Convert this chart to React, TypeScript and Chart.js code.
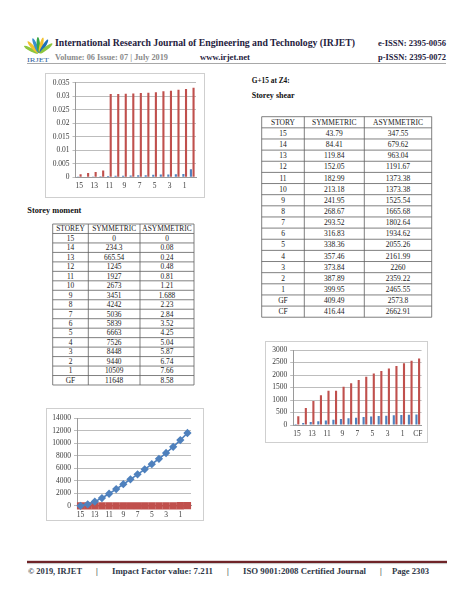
import { useEffect, useRef } from 'react';
import { Chart, registerables } from 'chart.js';

Chart.register(...registerables);

// storey drift (first chart, no table on the page)
const driftStoreys = ['15', '14', '13', '12', '11', '10', '9', '8', '7', '6', '5', '4', '3', '2', '1', 'GF'];
const driftSymmetric = [0.0001, 0.0002, 0.0003, 0.0004, 0.0005, 0.0006, 0.0006, 0.0007, 0.0008, 0.0008, 0.0009, 0.001, 0.001, 0.0011, 0.0012, 0.003];
const driftAsymmetric = [0.0011, 0.0016, 0.002, 0.0025, 0.0308, 0.0308, 0.0309, 0.031, 0.0312, 0.0313, 0.0315, 0.0318, 0.032, 0.0324, 0.0327, 0.0331];
const driftMax = 0.035;
const driftStep = 0.005;

// storey moment
const momentStoreys = ['15', '14', '13', '12', '11', '10', '9', '8', '7', '6', '5', '4', '3', '2', '1', 'GF'];
const momentSymmetric = [0, 234.3, 665.54, 1245, 1927, 2673, 3451, 4242, 5036, 5839, 6663, 7526, 8448, 9440, 10509, 11648];
const momentAsymmetric = [0, 0.08, 0.24, 0.48, 0.81, 1.21, 1.688, 2.23, 2.84, 3.52, 4.25, 5.04, 5.87, 6.74, 7.66, 8.58];
const momentHeader = ['STOREY', 'SYMMETRIC', 'ASYMMETRIC'];
const momentMax = 14000;
const momentStep = 2000;

// storey shear
const shearStoreys = ['15', '14', '13', '12', '11', '10', '9', '8', '7', '6', '5', '4', '3', '2', '1', 'GF', 'CF'];
const shearSymmetric = [43.79, 84.41, 119.84, 152.05, 182.99, 213.18, 241.95, 268.67, 293.52, 316.83, 338.36, 357.46, 373.84, 387.89, 399.95, 409.49, 416.44];
const shearAsymmetric = [347.55, 679.62, 963.04, 1191.67, 1373.38, 1373.38, 1525.54, 1665.68, 1802.64, 1934.62, 2055.26, 2161.99, 2260, 2359.22, 2465.55, 2573.8, 2662.91];
const shearHeader = ['STORY', 'SYMMETRIC', 'ASYMMETRIC'];
const shearMax = 3000;
const shearStep = 500;

const BLUE = '#4f81bd';
const RED = '#c0504d';
const GRID = '#bdbdbd';
const AXIS = '#9a9a9a';
const TICK = '#3a3a3a';
const FONT = "'Liberation Serif', 'Times New Roman', serif";

function everyOther(labels: string[]) {
  return (_v: any, i: number) => (i % 2 === 0 ? labels[i] : '');
}

function makeScales(labels: string[], yMax: number, yStep: number, yFormat: (v: any) => string, yWidth: number, xHeight: number) {
  return {
    x: {
      offset: true,
      grid: { display: false, drawTicks: false },
      border: { color: AXIS },
      ticks: {
        autoSkip: false,
        maxRotation: 0,
        padding: 4.5,
        color: TICK,
        font: { family: FONT, size: 7.5 },
        callback: everyOther(labels),
      },
      afterFit: (s: any) => { s.height = xHeight; },
    },
    y: {
      min: 0,
      max: yMax,
      grid: { color: GRID, tickLength: 3 },
      border: { color: AXIS },
      ticks: {
        stepSize: yStep,
        padding: 3,
        color: TICK,
        font: { family: FONT, size: 7.5 },
        callback: yFormat,
      },
      afterFit: (s: any) => { s.width = yWidth; },
    },
  };
}

const baseOptions = {
  animation: false,
  responsive: true,
  maintainAspectRatio: false,
  plugins: { legend: { display: false }, tooltip: { enabled: false } },
};

function buildDrift(): any {
  return {
    type: 'bar',
    data: {
      labels: driftStoreys,
      datasets: [
        { label: 'SYMMETRIC', data: driftSymmetric, backgroundColor: BLUE, categoryPercentage: 0.7, barPercentage: 0.8 },
        { label: 'ASYMMETRIC', data: driftAsymmetric, backgroundColor: RED, categoryPercentage: 0.7, barPercentage: 0.8 },
      ],
    },
    options: {
      ...baseOptions,
      layout: { padding: { top: 8.7, right: 8, left: 0, bottom: 0 } },
      scales: makeScales(driftStoreys, driftMax, driftStep, (v) => String(+Number(v).toFixed(3)), 29.5, 19.7),
    },
  };
}

function buildShear(): any {
  return {
    type: 'bar',
    data: {
      labels: shearStoreys,
      datasets: [
        { label: 'SYMMETRIC', data: shearSymmetric, backgroundColor: BLUE, categoryPercentage: 0.7, barPercentage: 0.8 },
        { label: 'ASYMMETRIC', data: shearAsymmetric, backgroundColor: RED, categoryPercentage: 0.7, barPercentage: 0.8 },
      ],
    },
    options: {
      ...baseOptions,
      layout: { padding: { top: 8, right: 4.6, left: 0, bottom: 0 } },
      scales: makeScales(shearStoreys, shearMax, shearStep, (v) => String(v), 27.2, 17),
    },
  };
}

function buildMoment(): any {
  return {
    type: 'line',
    data: {
      labels: momentStoreys,
      datasets: [
        {
          label: 'SYMMETRIC', data: momentSymmetric, borderColor: BLUE, borderWidth: 1.6, clip: false,
          pointStyle: 'rectRot', pointRadius: 3, pointBackgroundColor: BLUE, pointBorderColor: BLUE,
        },
        {
          label: 'ASYMMETRIC', data: momentAsymmetric, borderColor: RED, borderWidth: 1.6, clip: false,
          pointStyle: 'rect', pointRadius: 4, pointBackgroundColor: RED, pointBorderColor: RED,
        },
      ],
    },
    options: {
      ...baseOptions,
      layout: { padding: { top: 9.3, right: 12, left: 0, bottom: 0 } },
      scales: makeScales(momentStoreys, momentMax, momentStep, (v) => String(v), 30, 14.2),
    },
  };
}

function ChartPanel({ box, build }: { box: number[]; build: () => any }) {
  const ref = useRef<HTMLCanvasElement>(null);

  useEffect(() => {
    if (!ref.current) return;
    const chart = new Chart(ref.current, build());
    return () => chart.destroy();
  }, [build]);

  return (
    <div
      style={{
        position: 'absolute', left: box[0], top: box[1], width: box[2], height: box[3],
        border: '1px solid #cfcfcf', boxSizing: 'border-box', background: '#fff',
      }}
    >
      <canvas ref={ref} />
    </div>
  );
}

function Table({ colX, top, rowH, size, header, rows }: {
  colX: number[]; top: number; rowH: number; size: number; header: string[]; rows: string[][];
}) {
  const all = [header, ...rows];
  const bottom = top + rowH * all.length;
  return (
    <g fontSize={size} fill="#1a1a1a">
      {all.map((r, i) =>
        r.map((c, j) => (
          <text key={`${i}-${j}`} x={(colX[j] + colX[j + 1]) / 2} y={top + i * rowH + rowH / 2 + size * 0.35} textAnchor="middle">
            {c}
          </text>
        )),
      )}
      {Array.from({ length: all.length + 1 }, (_, i) => (
        <line key={`h${i}`} x1={colX[0]} x2={colX[colX.length - 1]} y1={top + i * rowH} y2={top + i * rowH} stroke="#606060" strokeWidth={0.8} />
      ))}
      {colX.map((x, i) => (
        <line key={`v${i}`} x1={x} x2={x} y1={top} y2={bottom} stroke="#606060" strokeWidth={0.8} />
      ))}
    </g>
  );
}

const petals = [
  { a: -62, c: '#8dc63f' },
  { a: -42, c: '#f2c230' },
  { a: -22, c: '#3a8fd0' },
  { a: -4, c: '#39a845' },
  { a: 14, c: '#f2c230' },
  { a: 32, c: '#1c6fb8' },
  { a: 52, c: '#8dc63f' },
];

function Page() {
  const momentRows = momentStoreys.map((s, i) => [s, String(momentSymmetric[i]), String(momentAsymmetric[i])]);
  const shearRows = shearStoreys.map((s, i) => [s, String(shearSymmetric[i]), String(shearAsymmetric[i])]);
  return (
    <svg width={474} height={613} style={{ position: 'absolute', left: 0, top: 0 }} fontFamily={FONT}>
      {/* header */}
      <g transform="translate(39,54)">
        {petals.map((p) => (
          <ellipse key={p.a} cx={0} cy={-9} rx={1.7} ry={8} fill={p.c} transform={`rotate(${p.a})`} />
        ))}
      </g>
      <text x={27} y={62} fontSize={6} fill="#2f5f9e" textLength={22} lengthAdjust="spacingAndGlyphs">IRJET</text>
      <text x={55} y={46} fontSize={10} fontWeight="bold" fill="#1f2240" textLength={300} lengthAdjust="spacingAndGlyphs">
        International Research Journal of Engineering and Technology (IRJET)
      </text>
      <text x={378} y={46} fontSize={8.5} fontWeight="bold" fill="#1f2240" textLength={68} lengthAdjust="spacingAndGlyphs">e-ISSN: 2395-0056</text>
      <text x={55} y={59.5} fontSize={8.5} fontWeight="bold" fill="#8a8a8a" textLength={113} lengthAdjust="spacingAndGlyphs">Volume: 06 Issue: 07 | July 2019</text>
      <text x={200} y={59.5} fontSize={8.5} fontWeight="bold" fill="#1f2240" textLength={50} lengthAdjust="spacingAndGlyphs">www.irjet.net</text>
      <text x={378} y={59.5} fontSize={8.5} fontWeight="bold" fill="#1f2240" textLength={68} lengthAdjust="spacingAndGlyphs">p-ISSN: 2395-0072</text>
      <line x1={27} x2={446} y1={63.5} y2={63.5} stroke="#a8a8a8" strokeWidth={1} />

      {/* left column */}
      <text x={27.3} y={213} fontSize={8} fontWeight="bold" fill="#111" textLength={54} lengthAdjust="spacingAndGlyphs">Storey moment</text>
      <Table colX={[52.7, 88.3, 140, 194]} top={224} rowH={9.47} size={7.4} header={momentHeader} rows={momentRows} />

      {/* right column */}
      <text x={251.7} y={83} fontSize={8} fontWeight="bold" fill="#111" textLength={38} lengthAdjust="spacingAndGlyphs">G+15 at Z4:</text>
      <text x={251.7} y={98} fontSize={8} fontWeight="bold" fill="#111" textLength={43} lengthAdjust="spacingAndGlyphs">Storey shear</text>
      <Table colX={[261.7, 304.3, 364.3, 431.7]} top={116.7} rowH={11.14} size={7.5} header={shearHeader} rows={shearRows} />

      {/* footer */}
      <rect x={27} y={560.8} width={420} height={2.2} fill="#6f2428" />
      <line x1={27} x2={447} y1={563.6} y2={563.6} stroke="#9a9a9a" strokeWidth={0.6} />
      <g fontSize={8} fontWeight="bold" fill="#303848">
        <text x={28} y={573.5} textLength={54} lengthAdjust="spacingAndGlyphs">© 2019, IRJET</text>
        <text x={96} y={573.5}>|</text>
        <text x={112} y={573.5} textLength={101} lengthAdjust="spacingAndGlyphs">Impact Factor value: 7.211</text>
        <text x={227} y={573.5}>|</text>
        <text x={243} y={573.5} textLength={123} lengthAdjust="spacingAndGlyphs">ISO 9001:2008 Certified Journal</text>
        <text x={380} y={573.5}>|</text>
        <text x={392} y={573.5} textLength={37} lengthAdjust="spacingAndGlyphs">Page 2303</text>
      </g>
    </svg>
  );
}

export default function App() {
  return (
    <div style={{ position: 'absolute', left: 0, top: 0, width: 474, height: 613, background: '#fff', overflow: 'hidden' }}>
      <Page />
      <ChartPanel box={[45, 73, 160, 125]} build={buildDrift} />
      <ChartPanel box={[265, 341, 163, 102]} build={buildShear} />
      <ChartPanel box={[46, 408, 158, 113]} build={buildMoment} />
    </div>
  );
}
